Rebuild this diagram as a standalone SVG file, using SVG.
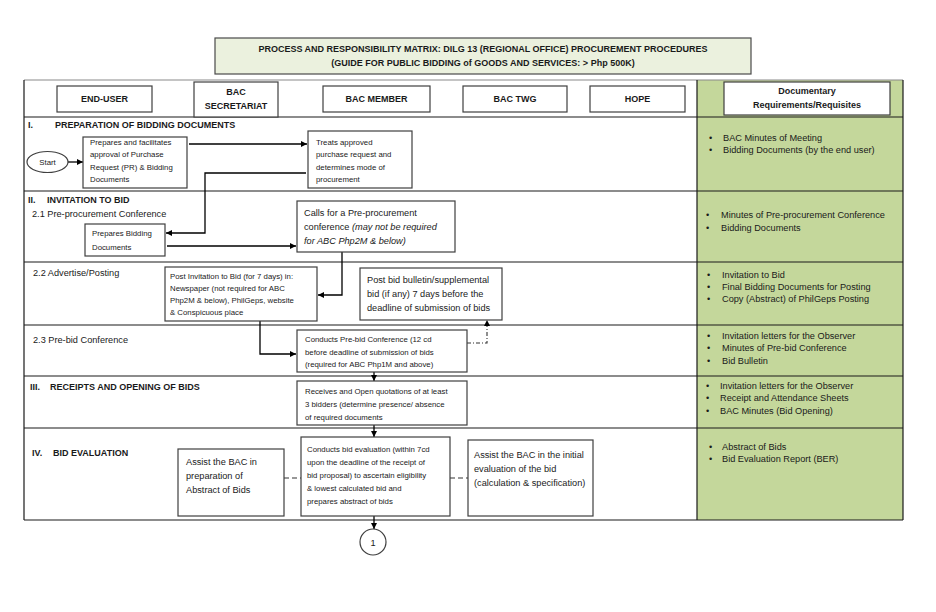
<svg xmlns="http://www.w3.org/2000/svg" width="936" height="612" viewBox="0 0 936 612">
<style>
.t{font-family:"Liberation Sans",Arial,sans-serif;fill:#1a1a1a}
.b{font-weight:bold}
.s{font-size:7.8px}
.m{font-size:9.2px}
.h{font-size:9px;font-weight:bold}
.box{fill:#fff;stroke:#3f3f3f;stroke-width:1.2}
.grid{stroke:#1a1a1a;stroke-width:1.2;fill:none}
.c{stroke:#000;stroke-width:1.3;fill:none}
.dash{stroke:#333;stroke-width:1.1;fill:none;stroke-dasharray:5,3}
.dd{stroke:#333;stroke-width:1.1;fill:none;stroke-dasharray:4,2,1,2}
</style>
<defs>
<marker id="ar" markerUnits="userSpaceOnUse" markerWidth="7" markerHeight="7" refX="6" refY="3" orient="auto">
<path d="M0,0 L6,3 L0,6 z" fill="#000"/>
</marker>
</defs>
<rect width="936" height="612" fill="#fff"/>

<g id="title">
<rect x="215" y="38" width="536" height="36" fill="#ebf1de" stroke="#4a4a4a" stroke-width="1.2"/>
<text class="t h" x="483" y="52" text-anchor="middle">PROCESS AND RESPONSIBILITY MATRIX: DILG 13 (REGIONAL OFFICE) PROCUREMENT PROCEDURES</text>
<text class="t h" x="483" y="66" text-anchor="middle">(GUIDE FOR PUBLIC BIDDING of GOODS AND SERVICES: &gt; Php 500K)</text>
</g>

<g id="table">
<rect x="697" y="80" width="206" height="440" fill="#c4d79b"/>
<line x1="24" y1="80" x2="903" y2="80" stroke="#8a8a8a" stroke-width="1.2"/>
<line class="grid" x1="24" y1="80" x2="24" y2="520"/>
<line class="grid" x1="697" y1="80" x2="697" y2="520"/>
<line class="grid" x1="903" y1="80" x2="903" y2="520"/>
<line class="grid" x1="24" y1="117" x2="903" y2="117"/>
<line class="grid" x1="24" y1="191" x2="903" y2="191"/>
<line class="grid" x1="24" y1="262" x2="903" y2="262"/>
<line class="grid" x1="24" y1="325" x2="903" y2="325"/>
<line class="grid" x1="24" y1="376" x2="903" y2="376"/>
<line class="grid" x1="24" y1="428" x2="903" y2="428"/>
<line class="grid" x1="24" y1="520" x2="903" y2="520"/>
</g>

<g id="headers">
<g id="h-enduser"><rect class="box" x="57" y="86" width="95" height="26"/><text class="t h" x="104.5" y="102" text-anchor="middle">END-USER</text></g>
<g id="h-secretariat"><rect class="box" x="194" y="82" width="84" height="35"/><text class="t h" x="236" y="95" text-anchor="middle">BAC</text><text class="t h" x="236" y="109" text-anchor="middle">SECRETARIAT</text></g>
<g id="h-member"><rect class="box" x="323" y="86" width="107" height="26"/><text class="t h" x="376.5" y="102" text-anchor="middle">BAC MEMBER</text></g>
<g id="h-twg"><rect class="box" x="463" y="86" width="104" height="26"/><text class="t h" x="515" y="102" text-anchor="middle">BAC TWG</text></g>
<g id="h-hope"><rect class="box" x="590" y="86" width="95" height="26"/><text class="t h" x="637.5" y="102" text-anchor="middle">HOPE</text></g>
<g id="h-docs"><rect class="box" x="724" y="82" width="166" height="33"/><text class="t h" x="807" y="94" text-anchor="middle">Documentary</text><text class="t h" x="807" y="108" text-anchor="middle">Requirements/Requisites</text></g>
</g>

<g id="section-labels">
<text class="t h" x="28" y="128">I.</text><text class="t h" x="55" y="128">PREPARATION OF BIDDING DOCUMENTS</text>
<text class="t h" x="28" y="203">II.</text><text class="t h" x="47" y="203">INVITATION TO BID</text>
<text class="t m" x="32" y="217">2.1 Pre-procurement Conference</text>
<text class="t m" x="33" y="276">2.2  Advertise/Posting</text>
<text class="t m" x="33" y="343">2.3  Pre-bid Conference</text>
<text class="t h" x="30" y="390">III.</text><text class="t h" x="50" y="390">RECEIPTS AND OPENING OF BIDS</text>
<text class="t h" x="32" y="456">IV.</text><text class="t h" x="53" y="456">BID EVALUATION</text>
</g>

<g id="requirements" class="t m">
<text x="709" y="141">•</text><text x="723" y="141">BAC Minutes of Meeting</text>
<text x="709" y="153">•</text><text x="723" y="153">Bidding Documents (by the end user)</text>
<text x="706" y="218">•</text><text x="721" y="218">Minutes of Pre-procurement Conference</text>
<text x="706" y="231">•</text><text x="721" y="231">Bidding Documents</text>
<text x="707" y="278">•</text><text x="722" y="278">Invitation to Bid</text>
<text x="707" y="290">•</text><text x="722" y="290">Final Bidding Documents for Posting</text>
<text x="707" y="302">•</text><text x="722" y="302">Copy (Abstract) of PhilGeps Posting</text>
<text x="707" y="339">•</text><text x="722" y="339">Invitation letters for the Observer</text>
<text x="707" y="351">•</text><text x="722" y="351">Minutes of Pre-bid Conference</text>
<text x="707" y="364">•</text><text x="722" y="364">Bid Bulletin</text>
<text x="706" y="389">•</text><text x="720" y="389">Invitation letters for the Observer</text>
<text x="706" y="401">•</text><text x="720" y="401">Receipt and Attendance Sheets</text>
<text x="706" y="414">•</text><text x="720" y="414">BAC Minutes (Bid Opening)</text>
<text x="709" y="450">•</text><text x="722" y="450">Abstract of Bids</text>
<text x="709" y="462">•</text><text x="722" y="462">Bid Evaluation Report (BER)</text>
</g>

<g id="connectors">
<path class="c" d="M68,162 L83,162" marker-end="url(#ar)"/>
<path class="c" d="M189,144 L307,144" marker-end="url(#ar)"/>
<path class="c" d="M306,173 L205,173 L205,233 L166,233" marker-end="url(#ar)"/>
<path class="c" d="M167,246 L296,246" marker-end="url(#ar)"/>
<path class="c" d="M342,252 L342,295 L318,295" marker-end="url(#ar)"/>
<path class="c" d="M260,321 L260,354 L296,354" marker-end="url(#ar)"/>
<path class="dd" d="M467,343 L487,343 L487,322"/>
<path d="M484,326 L487,320 L490,326 z" fill="#000"/>
<path class="c" d="M374,372 L374,381" marker-end="url(#ar)"/>
<path class="c" d="M374,425 L374,437" marker-end="url(#ar)"/>
<path class="dash" d="M284,478 L301,478"/>
<path class="dash" d="M450,478 L468,478"/>
<path class="c" d="M374,516 L374,529" marker-end="url(#ar)"/>
</g>

<g id="n-start">
<ellipse cx="47.5" cy="162" rx="20.5" ry="10.5" fill="#fff" stroke="#3f3f3f" stroke-width="1.2"/>
<text class="t s" x="47.5" y="165" text-anchor="middle">Start</text>
</g>

<g id="n-prepare-pr">
<rect class="box" x="83" y="137" width="104" height="51"/>
<text class="t s" x="90" y="145">Prepares and facilitates</text>
<text class="t s" x="90" y="157">approval of Purchase</text>
<text class="t s" x="90" y="170">Request (PR) &amp; Bidding</text>
<text class="t s" x="90" y="182">Documents</text>
</g>

<g id="n-treats">
<rect class="box" x="308" y="131" width="104" height="57"/>
<text class="t s" x="316" y="145">Treats approved</text>
<text class="t s" x="316" y="157">purchase request and</text>
<text class="t s" x="316" y="170">determines mode of</text>
<text class="t s" x="316" y="182">procurement</text>
</g>

<g id="n-prepare-docs">
<rect class="box" x="85" y="224" width="80" height="32"/>
<text class="t s" x="92" y="236">Prepares Bidding</text>
<text class="t s" x="92" y="250">Documents</text>
</g>

<g id="n-calls">
<rect class="box" x="297" y="201" width="158" height="51"/>
<text class="t m" x="304" y="216">Calls for a Pre-procurement</text>
<text class="t m" x="304" y="230">conference <tspan font-style="italic">(may not be required</tspan></text>
<text class="t m" x="304" y="244" font-style="italic">for ABC Php2M &amp; below)</text>
</g>

<g id="n-post-invitation">
<rect class="box" x="165" y="267" width="152" height="54"/>
<text class="t s" x="170" y="279">Post Invitation to Bid (for 7 days) in:</text>
<text class="t s" x="170" y="291">Newspaper (not required for ABC</text>
<text class="t s" x="170" y="303">Php2M &amp; below), PhilGeps, website</text>
<text class="t s" x="170" y="315">&amp; Conspicuous place</text>
</g>

<g id="n-post-bulletin">
<rect class="box" x="360" y="268" width="142" height="52"/>
<text class="t m" x="367" y="283">Post bid bulletin/supplemental</text>
<text class="t m" x="367" y="297">bid (if any) 7 days before the</text>
<text class="t m" x="367" y="311">deadline of submission of bids</text>
</g>

<g id="n-prebid">
<rect class="box" x="297" y="330" width="170" height="42"/>
<text class="t s" x="305" y="342">Conducts Pre-bid Conference (12 cd</text>
<text class="t s" x="305" y="355">before deadline of submission of bids</text>
<text class="t s" x="305" y="367">(required for ABC Php1M and above)</text>
</g>

<g id="n-receives">
<rect class="box" x="297" y="381" width="170" height="44"/>
<text class="t s" x="305" y="394">Receives and Open quotations of at least</text>
<text class="t s" x="305" y="407">3 bidders (determine presence/ absence</text>
<text class="t s" x="305" y="420">of required documents</text>
</g>

<g id="n-assist-abstract">
<rect class="box" x="178" y="449" width="106" height="67"/>
<text class="t m" x="186" y="465">Assist the BAC in</text>
<text class="t m" x="186" y="479">preparation of</text>
<text class="t m" x="186" y="493">Abstract of Bids</text>
</g>

<g id="n-evaluation">
<rect class="box" x="301" y="437" width="149" height="79"/>
<text class="t s" x="307" y="452">Conducts bid evaluation (within 7cd</text>
<text class="t s" x="307" y="465">upon the deadline of the receipt of</text>
<text class="t s" x="307" y="478">bid proposal) to ascertain eligibility</text>
<text class="t s" x="307" y="491">&amp; lowest calculated bid and</text>
<text class="t s" x="307" y="504">prepares abstract of bids</text>
</g>

<g id="n-assist-initial">
<rect class="box" x="468" y="440" width="125" height="76"/>
<text class="t m" x="474" y="458">Assist the BAC in the initial</text>
<text class="t m" x="474" y="472">evaluation of the bid</text>
<text class="t m" x="474" y="486">(calculation &amp; specification)</text>
</g>

<g id="n-connector-1">
<circle cx="373" cy="542" r="13" fill="#fff" stroke="#3f3f3f" stroke-width="1.2"/>
<text class="t m" x="373" y="546" text-anchor="middle">1</text>
</g>
</svg>
